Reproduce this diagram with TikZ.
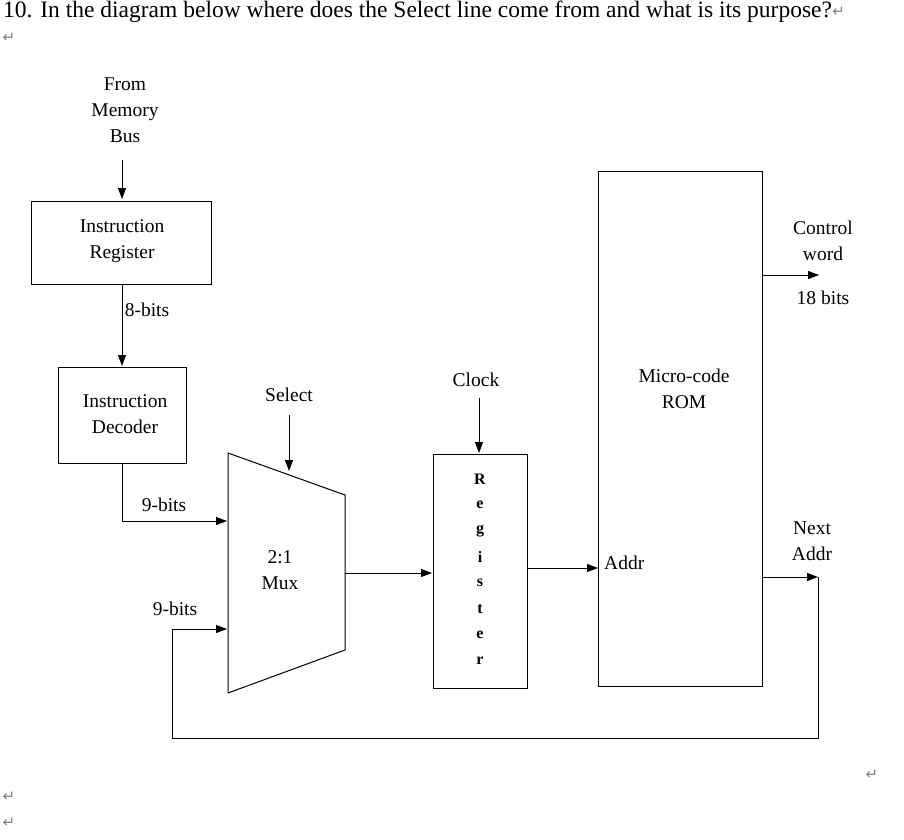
\documentclass[tikz,border=0pt]{standalone}
\usepackage{fontspec}
\setmainfont{Liberation Serif}
\newfontfamily\djv{DejaVu Sans}
\usetikzlibrary{arrows.meta}
\begin{document}
\begin{tikzpicture}[x=1pt,y=-1pt,
  lbl/.style={font=\fontsize{19.5}{20}\selectfont, inner sep=0pt, align=center},
  box/.style={draw, line width=1pt},
  arr/.style={line width=1pt, -{Triangle[length=11pt,width=8pt]}},
  ln/.style={line width=1pt},
  pm/.style={font=\djv\fontsize{15}{16}\selectfont, text=gray, inner sep=0pt}]
\useasboundingbox (0,0) rectangle (904,839);
\node[lbl, anchor=west, font=\fontsize{23.5}{24}\selectfont] (title) at (3,12) {10. In the diagram below where does the Select line come from and what is its purpose?};
\node[pm, anchor=west] (p0) at (title.east) {↵};
\node[pm] (p1) at (9,38) {↵};
\node[pm] (p2) at (9,797) {↵};
\node[pm] (p3) at (9,823) {↵};
\node[pm] (p4) at (872,775) {↵};
\node[lbl] (from) at (125,110) {From\\[6pt]Memory\\[6pt]Bus};
\node[box, minimum width=180pt, minimum height=83pt] (ir) at (121,242.5) {};
\node[lbl] (irt) at (122,241) {Instruction\\[6pt]Register};
\coordinate (m1) at (122,160);
\draw[arr] (m1) -- (122,199);
\node[box, minimum width=128pt, minimum height=96pt] (id) at (122,415) {};
\node[lbl] (idt) at (125,414) {Instruction\\[6pt]Decoder};
\draw[arr] (122,284) -- (122,366);
\node[lbl] (b8) at (147,310) {8-bits};
\coordinate (d1) at (122,521);
\draw[arr] (122,463) -- (d1) -- (227,521);
\node[lbl] (b9a) at (164,505) {9-bits};
\draw[ln] (228,453) -- (345,495) -- (345,650) -- (228,693) -- cycle;
\node (mux) at (286,573) {};
\node[lbl] (muxt) at (280,570) {2:1\\[6pt]Mux};
\node[lbl] (sel) at (289,395) {Select};
\draw[arr] (289,415) -- (289,471);
\draw[arr] (345,573) -- (432,573);
\node[box, minimum width=94pt, minimum height=234pt] (reg) at (480,571) {};
\foreach \c [count=\i] in {R,e,g,i,s,t,e,r}
  \node[lbl, font=\bfseries\fontsize{16}{18}\selectfont] (r\i) at (480,479+26*\i-26) {\c};
\node[lbl] (clk) at (476,380) {Clock};
\draw[arr] (479,398) -- (479,453);
\node[box, minimum width=164pt, minimum height=515pt] (rom) at (680,428.5) {};
\node[lbl] (romt) at (684,389) {Micro-code\\[6pt]ROM};
\draw[arr] (527,568) -- (598,568);
\node[lbl, anchor=west] (addr) at (604,563) {Addr};
\node[lbl] (cw) at (823,241) {Control\\[6pt]word};
\draw[arr] (762,275) -- (819,275);
\node[lbl] (b18) at (823,298) {18 bits};
\node[lbl] (na) at (812,541) {Next\\[6pt]Addr};
\coordinate (n1) at (818,577);
\coordinate (n2) at (818,738);
\coordinate (n3) at (172,738);
\coordinate (n4) at (172,629);
\draw[arr] (762,577) -- (n1);
\draw[arr] (n1) -- (n2) -- (n3) -- (n4) -- (227,629);
\node[lbl] (b9b) at (175,609) {9-bits};
\end{tikzpicture}
\end{document}
